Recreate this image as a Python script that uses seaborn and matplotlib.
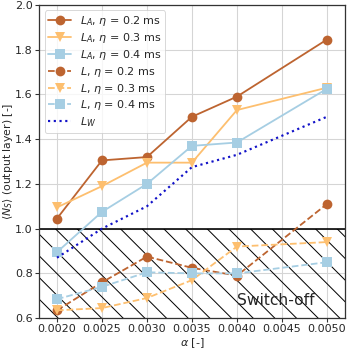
import numpy as np
import pandas as pd
import matplotlib
matplotlib.use("Agg")
import matplotlib.pyplot as plt
import seaborn as sns

alpha = [0.0020, 0.0025, 0.0030, 0.0035, 0.0040, 0.0050]

LA_02 = [1.045, 1.305, 1.320, 1.500, 1.590, 1.845]
LA_03 = [1.095, 1.190, 1.295, 1.295, 1.530, 1.630]
LA_04 = [0.895, 1.075, 1.200, 1.370, 1.385, 1.625]
L_02 = [0.635, 0.760, 0.875, 0.825, 0.790, 1.110]
L_03 = [0.635, 0.645, 0.690, 0.770, 0.920, 0.940]
L_04 = [0.685, 0.740, 0.805, 0.800, 0.800, 0.850]
L_W = [0.870, 1.000, 1.100, 1.275, 1.330, 1.500]

labels = [r"$L_A$, $\eta$ = 0.2 ms", r"$L_A$, $\eta$ = 0.3 ms", r"$L_A$, $\eta$ = 0.4 ms",
          r"$L$, $\eta$ = 0.2 ms", r"$L$, $\eta$ = 0.3 ms", r"$L$, $\eta$ = 0.4 ms",
          r"$L_W$"]
xticks = [0.0020, 0.0025, 0.0030, 0.0035, 0.0040, 0.0045, 0.0050]
yticks = [0.6, 0.8, 1.0, 1.2, 1.4, 1.6, 1.8, 2.0]

sns.set_style("whitegrid")
plt.rcParams['font.family'] = ['DejaVu Sans']
plt.rcParams['hatch.linewidth'] = 0.55
plt.rcParams['mathtext.fontset'] = 'dejavusans'

DPI = 130
fig, ax = plt.subplots(figsize=(348 / DPI, 350 / DPI), dpi=DPI)
fig.subplots_adjust(left=0.112, right=0.991, top=0.986, bottom=0.091)

brown = "#bd6430"
orange = "#fdbf6f"
lblue = "#a6cee3"
dblue = "#1212c8"

series = [
    (LA_02, brown, "o", "-"),
    (LA_03, orange, "v", "-"),
    (LA_04, lblue, "s", "-"),
    (L_02, brown, "o", "--"),
    (L_03, orange, "v", "--"),
    (L_04, lblue, "s", "--"),
]
fs = 6.2
ax.axhspan(0.6, 1.0, facecolor="none", hatch="\\\\", edgecolor="black", linewidth=0, zorder=1)
for (vals, col, mk, ls), lab in zip(series, labels[:6]):
    df = pd.DataFrame({"alpha": alpha, "v": vals})
    sns.lineplot(data=df, x="alpha", y="v", ax=ax, color=col, marker=mk, linestyle=ls,
                 linewidth=1.0, markersize=5.4, markeredgewidth=0, label=lab, zorder=3)
df = pd.DataFrame({"alpha": alpha, "v": L_W})
sns.lineplot(data=df, x="alpha", y="v", ax=ax, color=dblue, linestyle=":", linewidth=1.2,
             label=labels[6], zorder=3)

ax.axhline(1.0, color="black", linewidth=0.9, zorder=2)
ax.text(0.00443, 0.68, "Switch-off", fontsize=8.6, ha="center", va="center", zorder=4)

ax.set_xlim(0.0018, 0.0052)
ax.set_ylim(0.6, 2.0)
ax.set_xticks(xticks)
ax.set_xticklabels([f"{t:.4f}" for t in xticks])
ax.set_yticks(yticks)
ax.set_yticklabels([f"{t:.1f}" for t in yticks])
ax.tick_params(labelsize=fs, length=2, width=0.6, pad=1.5, left=True, bottom=True, color="#333333")
ax.grid(True, color="#d5d5d5", linewidth=0.6)
for s in ax.spines.values():
    s.set_color("#333333")
    s.set_linewidth(0.7)
ax.set_xlabel(r"$\alpha$ [-]", fontsize=fs, labelpad=1)
ax.set_ylabel(r"$\langle N_S \rangle$ (output layer) [-]", fontsize=6.0)
ax.yaxis.set_label_coords(-0.077, 0.5)
leg = ax.legend(loc="upper left", fontsize=fs, frameon=True, handlelength=2.0,
                borderpad=0.35, labelspacing=0.25, handletextpad=0.8)
leg.get_frame().set_edgecolor("#cccccc")
leg.get_frame().set_linewidth(0.5)

fig.savefig("out.png", dpi=DPI)
